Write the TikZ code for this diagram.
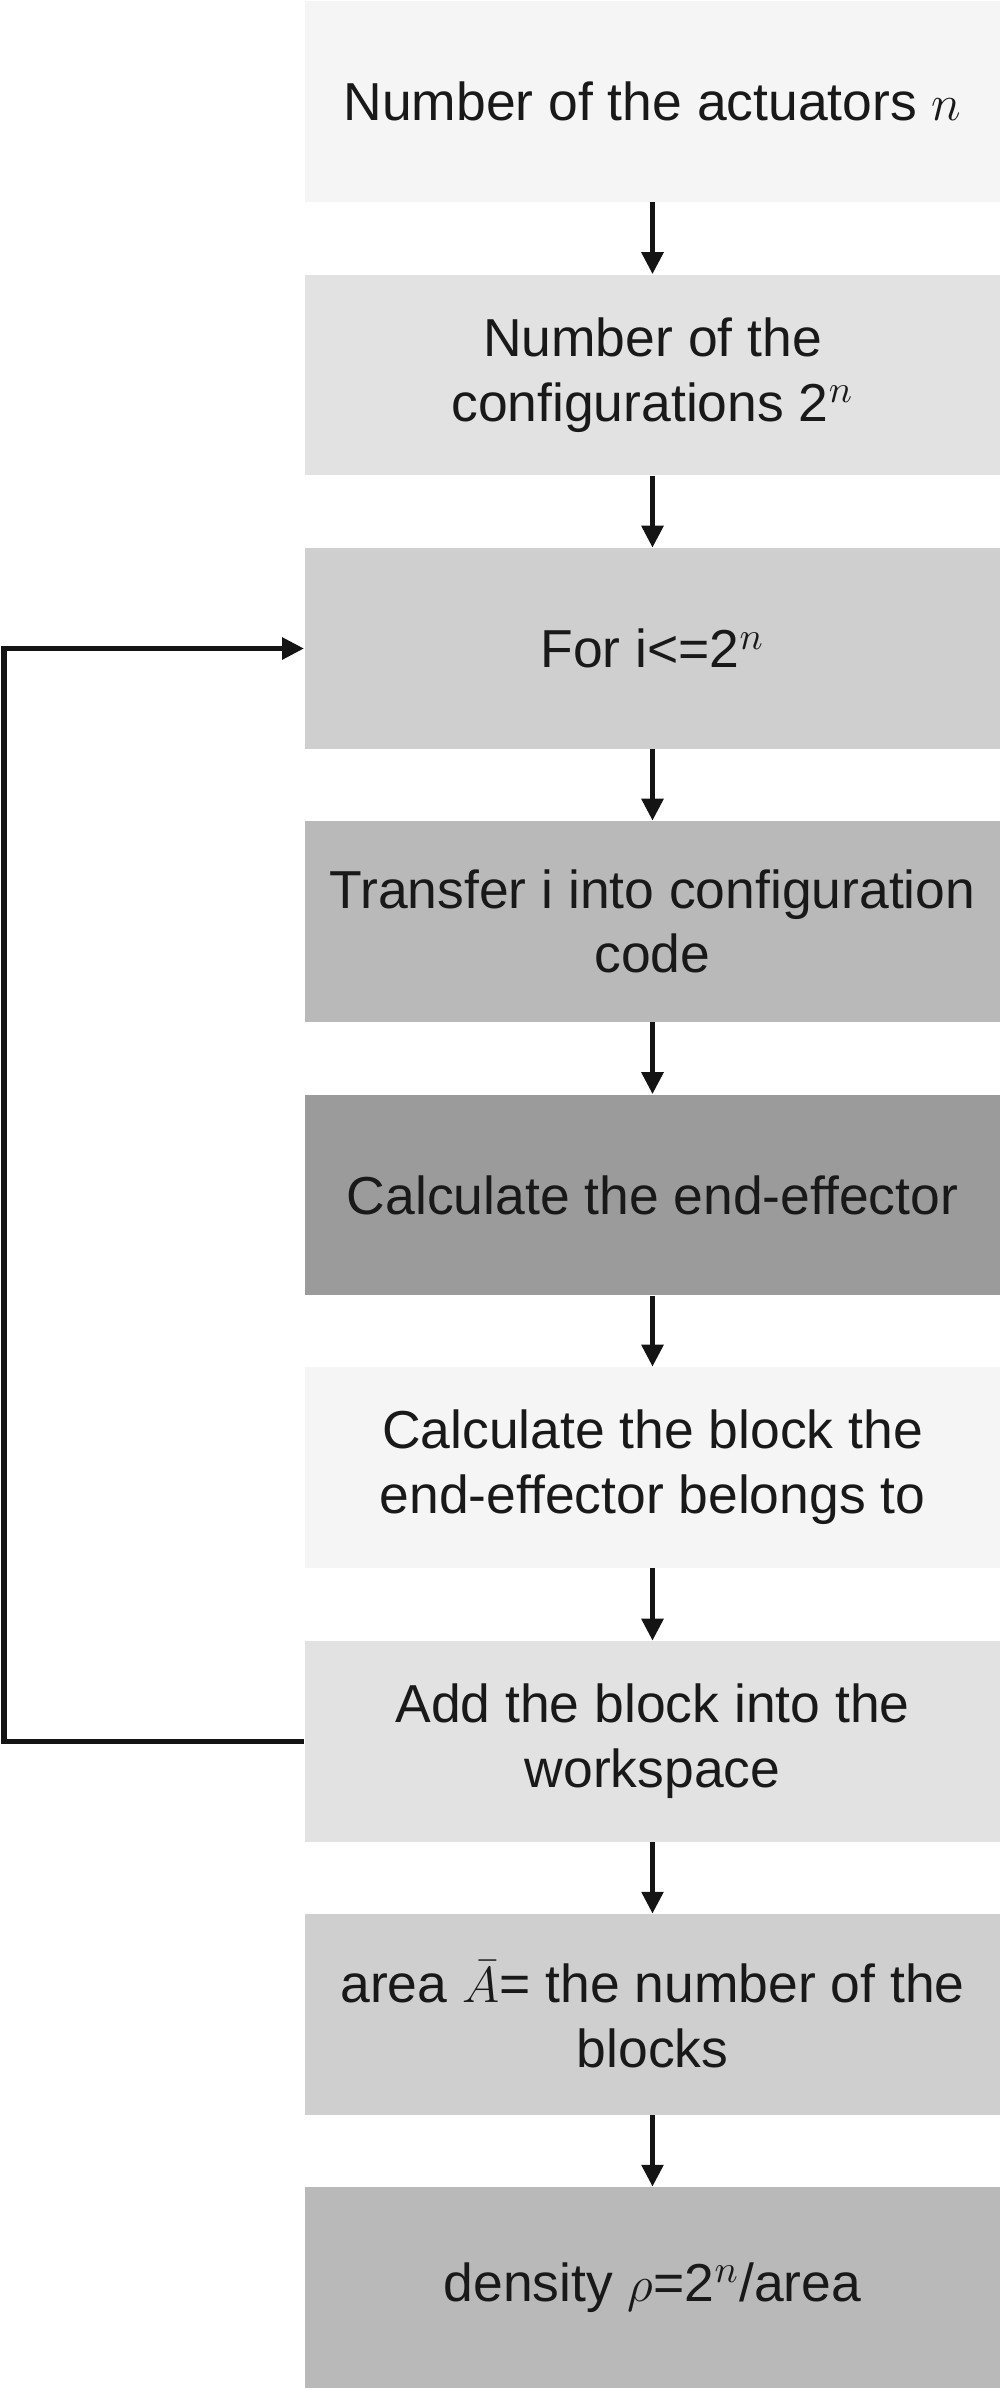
\documentclass[tikz,border=0pt]{standalone}
\usepackage{fontspec}
\setmainfont{Liberation Sans}
\definecolor{shadeA}{RGB}{245,245,245}
\definecolor{shadeB}{RGB}{226,226,226}
\definecolor{shadeC}{RGB}{207,207,207}
\definecolor{shadeD}{RGB}{185,185,185}
\definecolor{shadeE}{RGB}{155,155,155}
\definecolor{textdark}{RGB}{25,25,25}
\definecolor{arrowblack}{RGB}{20,20,20}
\usepackage{tikz}
\usetikzlibrary{arrows.meta,positioning}

\begin{document}
\begin{tikzpicture}[x=0.01cm,y=-0.01cm,
  box/.style={fill=#1,minimum width=6.95cm,minimum height=2cm,inner sep=0pt,
              font=\fontsize{15.2}{18.4}\selectfont,text=textdark,align=center},
  flow/.style={draw=arrowblack,line width=1.6pt,
               -{Triangle[width=2.1mm,length=2.2mm]}}
]
  \useasboundingbox (0,0) rectangle (1000,2390);
  \node[box=shadeA] (actuators) at (652.5, 101.5) {Number of the actuators $n$};
  \node[box=shadeB] (configs)   at (652.5, 375)   {Number of the\\configurations 2$^{n}$};
  \node[box=shadeC] (loop)      at (652.5, 648.5) {For i<=2$^{n}$};
  \node[box=shadeD] (transfer)  at (652.5, 921.5) {Transfer i into configuration\\code};
  \node[box=shadeE] (effector)  at (652.5,1195)   {Calculate the end-effector};
  \node[box=shadeA] (block)     at (652.5,1467.5) {Calculate the block the\\end-effector belongs to};
  \node[box=shadeB] (add)       at (652.5,1741.5) {Add the block into the\\workspace};
  \node[box=shadeC] (area)      at (652.5,2014.5) {area $\bar{A}$= the number of the\\blocks};
  \node[box=shadeD] (density)   at (652.5,2287.5) {density $\rho$=2$^{n}$/area};

  \draw[flow] (actuators) -- (configs);
  \draw[flow] (configs) -- (loop);
  \draw[flow] (loop) -- (transfer);
  \draw[flow] (transfer) -- (effector);
  \draw[flow] (effector) -- (block);
  \draw[flow] (block) -- (add);
  \draw[flow] (add) -- (area);
  \draw[flow] (area) -- (density);
  % back to the loop head
  \draw[flow] (add.west) -- ++(-300,0) |- (loop.west);
\end{tikzpicture}
\end{document}
